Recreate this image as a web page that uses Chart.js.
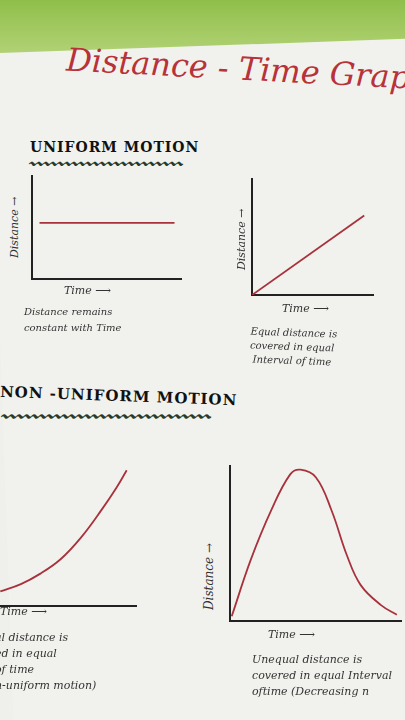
<!DOCTYPE html>
<html><head><meta charset="utf-8">
<script src="https://cdn.jsdelivr.net/npm/chart.js@4"></script>
<style>
body{margin:0;width:405px;height:720px;overflow:hidden;background:#eff0ec;position:relative;font-family:"DejaVu Serif",serif}
#green{position:absolute;left:0;top:0;width:405px;height:60px;background:linear-gradient(#8fbf4a,#b6d47a)}
#paper{position:absolute;left:-10px;top:38px;width:440px;height:720px;background:#f1f2ee;transform:rotate(-2deg);transform-origin:100% 0}
.t{position:absolute;font-style:italic;color:#333;white-space:nowrap}
canvas{position:absolute}
.w{position:absolute}
</style></head><body>
<div id="green"></div><div id="paper"></div>
<div class="t" style="left:66px;top:50px;font-size:32px;color:#b8323a;transform:rotate(3deg)">Distance - Time Graph</div>
<div class="t" style="left:30px;top:139px;font-size:14px;font-weight:bold;font-style:normal;color:#111;letter-spacing:1px">UNIFORM MOTION</div>
<div class="t" style="left:28px;top:152px;font-size:14px;color:#2a3a2a">〰〰〰〰〰〰〰〰〰〰〰</div>
<div class="t" style="left:0px;top:387px;font-size:15px;font-weight:bold;font-style:normal;color:#111;letter-spacing:1px;transform:rotate(2deg)">NON -UNIFORM MOTION</div>
<div class="t" style="left:0px;top:404px;font-size:15px;color:#2a3a2a">〰〰〰〰〰〰〰〰〰〰〰〰〰〰</div>

<div class="w" style="left:24px;top:175px;width:158px;height:112px"><canvas id="c1"></canvas></div>
<div class="w" style="left:244px;top:178px;width:130px;height:125px"><canvas id="c2"></canvas></div>
<div class="w" style="left:-18px;top:460px;width:155px;height:154px"><canvas id="c3"></canvas></div>
<div class="w" style="left:222px;top:465px;width:180px;height:164px"><canvas id="c4"></canvas></div>

<div class="t" style="left:8px;top:258px;font-size:11px;transform:rotate(-90deg);transform-origin:0 0">Distance →</div>
<div class="t" style="left:64px;top:284px;font-size:11px">Time ⟶</div>
<div class="t" style="left:24px;top:304px;font-size:10px;line-height:16px">Distance remains<br>constant with Time</div>
<div class="t" style="left:235px;top:270px;font-size:11px;transform:rotate(-90deg);transform-origin:0 0">Distance →</div>
<div class="t" style="left:282px;top:302px;font-size:11px">Time ⟶</div>
<div class="t" style="left:250px;top:326px;font-size:10px;line-height:14px;transform:rotate(2deg)">Equal distance is<br>covered in equal<br>&nbsp;Interval of time</div>
<div class="t" style="left:0px;top:605px;font-size:11px">Time ⟶</div>
<div class="t" style="left:-5px;top:630px;font-size:11px;line-height:16px">al distance is<br>ed in equal<br>of time<br>n-uniform motion)</div>
<div class="t" style="left:202px;top:610px;font-size:12px;transform:rotate(-90deg);transform-origin:0 0">Distance →</div>
<div class="t" style="left:268px;top:628px;font-size:11px">Time ⟶</div>
<div class="t" style="left:252px;top:652px;font-size:11px;line-height:16px">Unequal distance is<br>covered in equal Interval<br>oftime (Decreasing n</div>

<script>
const uniformX=[0.5,9.5], uniformY=[5.4,5.4];
const linearX=[0,9.2], linearY=[0,6.8];
const accelX=[0.7,2.1,3.4,4.8,6.2,7.6,8.6,9.3], accelY=[1.0,1.5,2.2,3.2,4.7,6.6,8.1,9.3];
const bellX=[0.1,1.2,2.4,3.5,4.1,5.0,5.9,6.8,7.6,8.8,9.7], bellY=[0.3,3.9,7.1,9.4,9.7,9.2,7.1,4.2,2.3,1.0,0.4];
function mk(id,xs,ys,t){
 const ax={type:'linear',min:0,max:10,grid:{display:false},ticks:{display:false},border:{display:true,color:'#222',width:2}};
 new Chart(document.getElementById(id),{type:'line',
  data:{datasets:[{data:xs.map((x,i)=>({x,y:ys[i]})),borderColor:'#a8323c',borderWidth:1.8,pointRadius:0,tension:t,fill:false}]},
  options:{responsive:true,maintainAspectRatio:false,animation:false,layout:{padding:0},
   plugins:{legend:{display:false},tooltip:{enabled:false}},
   scales:{x:Object.assign({},ax),y:Object.assign({},ax)}}});
}
mk('c1',uniformX,uniformY,0);
mk('c2',linearX,linearY,0);
mk('c3',accelX,accelY,0.4);
mk('c4',bellX,bellY,0.4);
</script>
</body></html>
